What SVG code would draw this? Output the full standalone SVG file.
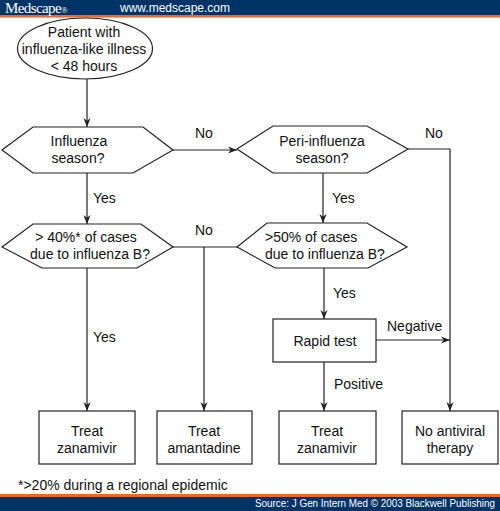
<svg xmlns="http://www.w3.org/2000/svg" width="500" height="511" viewBox="0 0 500 511">
<style>
  .shape { fill: #ffffff; stroke: #222222; stroke-width: 1.2; }
  .conn { fill: none; stroke: #222222; stroke-width: 1.2; }
  .t { font-family: "Liberation Sans", Arial, sans-serif; font-size: 14px; fill: #111111; }
  .c { text-anchor: middle; }
  .lbl { font-family: "Liberation Sans", Arial, sans-serif; font-size: 14px; fill: #111111; }
</style>
<defs>
  <marker id="arr" viewBox="0 0 10 10" refX="10" refY="5" markerWidth="9" markerHeight="9" markerUnits="userSpaceOnUse" orient="auto">
    <path d="M0,1 L10,5 L0,9 L3,5 Z" fill="#222222"/>
  </marker>
</defs>
<rect x="0" y="0" width="500" height="15" fill="#003366"/>
<rect x="0" y="15" width="500" height="2.5" fill="#f26522"/>
<text x="5" y="12.5" font-family="Liberation Serif, 'Times New Roman', serif" font-size="15" letter-spacing="-0.6" fill="#ffffff">Medscape<tspan font-size="9" letter-spacing="0">®</tspan></text>
<text x="120" y="12" font-family="Liberation Sans, Arial, sans-serif" font-size="12" fill="#ffffff">www.medscape.com</text>
<rect x="0" y="494" width="500" height="3" fill="#f26522"/>
<rect x="0" y="497" width="500" height="14" fill="#003366"/>
<text x="255" y="507" font-family="Liberation Sans, Arial, sans-serif" font-size="10" fill="#ffffff" textLength="240" lengthAdjust="spacingAndGlyphs">Source: J Gen Intern Med © 2003 Blackwell Publishing</text>
<g id="connectors">
  <path class="conn" d="M87,79 L87,127" marker-end="url(#arr)"/>
  <path class="conn" d="M173,150 L237,150" marker-end="url(#arr)"/>
  <path class="conn" d="M87,173 L87,224" marker-end="url(#arr)"/>
  <path class="conn" d="M408,149 L450,149 L450,411" marker-end="url(#arr)"/>
  <path class="conn" d="M323,173 L323,223" marker-end="url(#arr)"/>
  <path class="conn" d="M173,247 L237,247"/>
  <path class="conn" d="M204,247 L204,411" marker-end="url(#arr)"/>
  <path class="conn" d="M87,268 L87,411" marker-end="url(#arr)"/>
  <path class="conn" d="M324,268 L324,319" marker-end="url(#arr)"/>
  <path class="conn" d="M376,340 L450,340" marker-end="url(#arr)"/>
  <path class="conn" d="M324,362 L324,411" marker-end="url(#arr)"/>
  <text class="lbl" x="195" y="138">No</text>
  <text class="lbl" x="425" y="138">No</text>
  <text class="lbl" x="93" y="203">Yes</text>
  <text class="lbl" x="332" y="203">Yes</text>
  <text class="lbl" x="195" y="235">No</text>
  <text class="lbl" x="93" y="342">Yes</text>
  <text class="lbl" x="333" y="298">Yes</text>
  <text class="lbl" x="387" y="331">Negative</text>
  <text class="lbl" x="334" y="389">Positive</text>
</g>
<g id="start">
  <ellipse class="shape" cx="85" cy="48.5" rx="67.5" ry="30.5"/>
  <text class="t c" x="84" y="37">Patient with</text>
  <text class="t c" x="84" y="54">influenza-like illness</text>
  <text class="t c" x="84" y="71">&lt; 48 hours</text>
</g>
<g id="influenza-season">
  <polygon class="shape" points="2,150 33,127 143,127 173,150 133,173 33,173"/>
  <text class="t c" x="79" y="146">Influenza</text>
  <text class="t c" x="78" y="163">season?</text>
</g>
<g id="peri-influenza-season">
  <polygon class="shape" points="237,149 273,126 367,126 408,149 367,173 273,173"/>
  <text class="t c" x="322" y="146">Peri-influenza</text>
  <text class="t c" x="322" y="163">season?</text>
</g>
<g id="gt40">
  <polygon class="shape" points="2,247 33,224 141,224 173,247 137,268 42,268"/>
  <text class="t c" x="86" y="242">&gt; 40%* of cases</text>
  <text class="t c" x="90" y="259">due to influenza B?</text>
</g>
<g id="gt50">
  <polygon class="shape" points="237,247 267,223 367,223 407,247 368,268 275,268"/>
  <text class="t" x="265" y="242">&gt;50% of cases</text>
  <text class="t" x="265" y="259">due to influenza B?</text>
</g>
<g id="rapid-test">
  <rect class="shape" x="273" y="319" width="103" height="43"/>
  <text class="t c" x="325" y="346">Rapid test</text>
</g>
<g id="treat-zanamivir-1">
  <rect class="shape" x="39" y="411" width="96" height="53"/>
  <text class="t c" x="87" y="436">Treat</text>
  <text class="t c" x="87" y="453">zanamivir</text>
</g>
<g id="treat-amantadine">
  <rect class="shape" x="157" y="411" width="95" height="53"/>
  <text class="t c" x="204" y="436">Treat</text>
  <text class="t c" x="204" y="453">amantadine</text>
</g>
<g id="treat-zanamivir-2">
  <rect class="shape" x="279" y="411" width="97" height="53"/>
  <text class="t c" x="327" y="436">Treat</text>
  <text class="t c" x="327" y="453">zanamivir</text>
</g>
<g id="no-antiviral">
  <rect class="shape" x="402" y="411" width="96" height="53"/>
  <text class="t c" x="450" y="436">No antiviral</text>
  <text class="t c" x="450" y="453">therapy</text>
</g>
<text x="18" y="490" font-family="Liberation Sans, Arial, sans-serif" font-size="14" fill="#111111">*&gt;20% during a regional epidemic</text>
</svg>
